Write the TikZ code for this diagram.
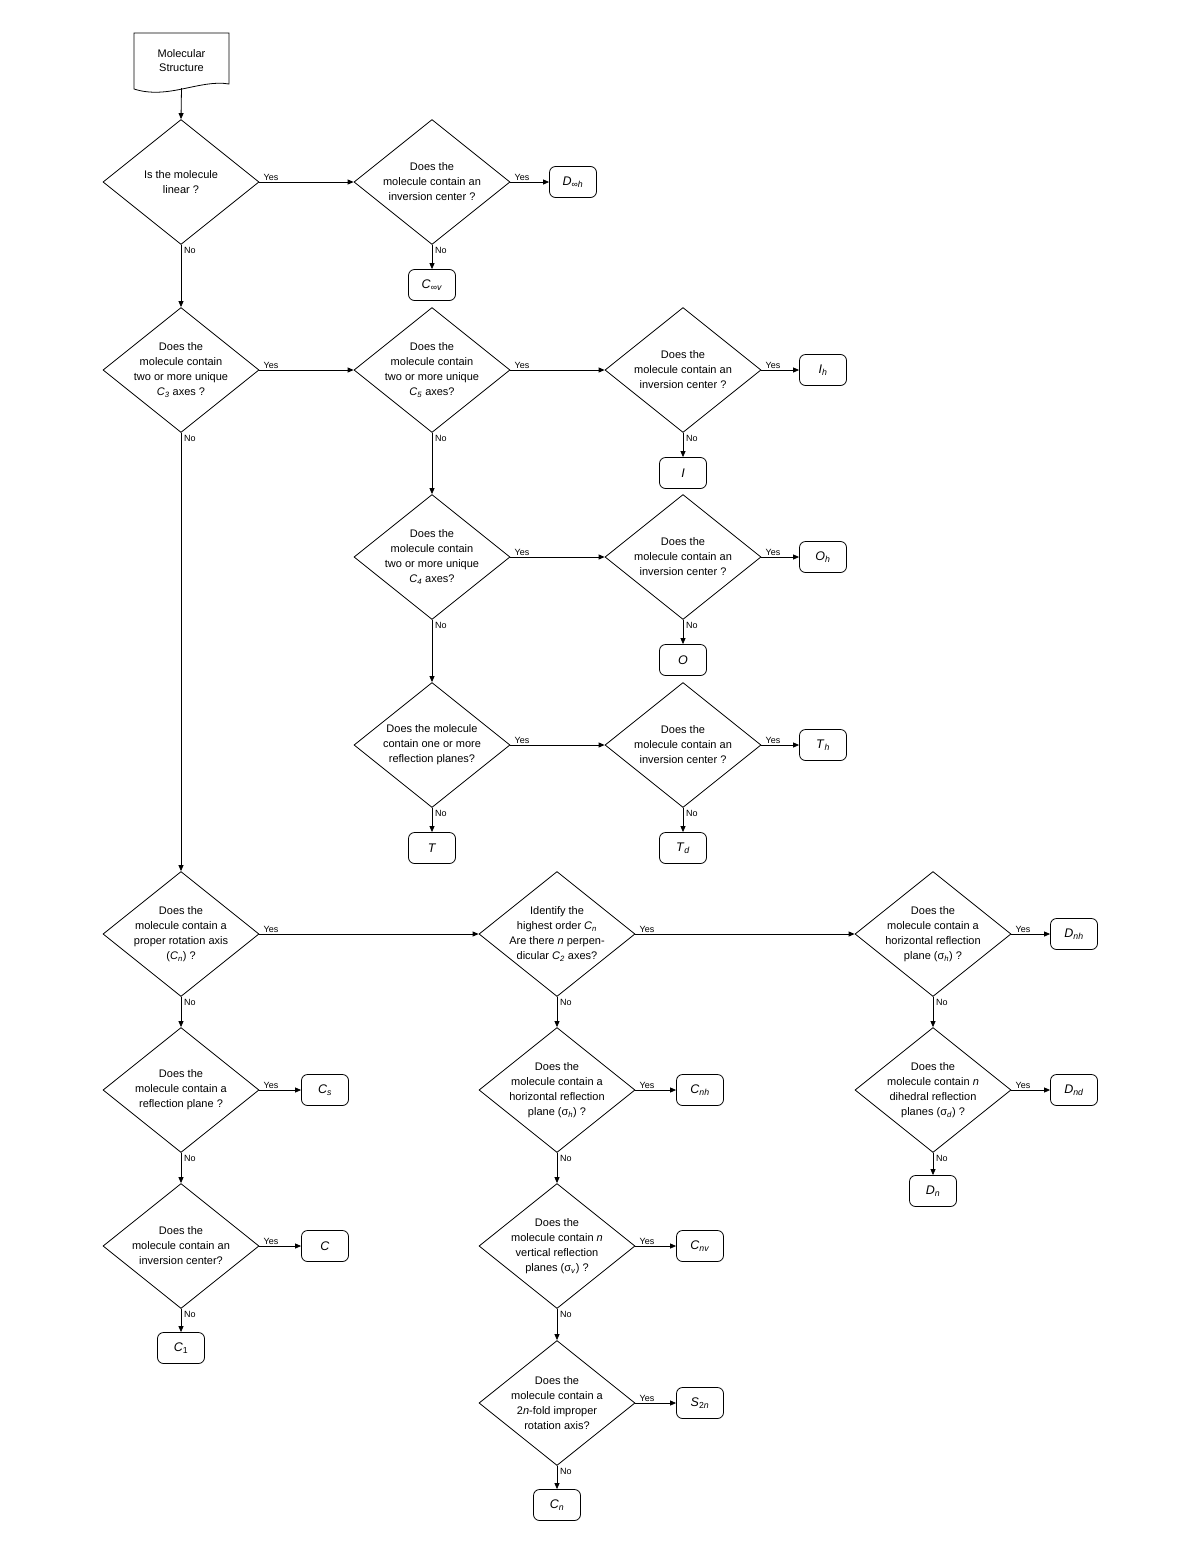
\documentclass[tikz,border=0pt]{standalone}
\usepackage{fontspec}
\setmainfont{Liberation Sans}
\usetikzlibrary{shapes.geometric,arrows.meta,calc}
\newcommand{\gsym}[2]{\textit{#1}\textsubscript{\textit{#2}}}
\begin{document}
\begin{tikzpicture}[x=1pt,y=-1pt,
 dia/.style={draw,shape=diamond,minimum width=156pt,minimum height=125pt,inner sep=0pt,line width=0.8pt},
 dtext/.style={align=center,font=\fontsize{11}{15}\selectfont,inner sep=0pt},
 term/.style={draw,rounded corners=6pt,minimum width=47pt,minimum height=31pt,inner sep=0pt,font=\fontsize{12.5}{14}\selectfont,line width=0.8pt},
 arr/.style={line width=0.8pt,-{Triangle[length=6pt,width=5pt]}},
 yeslab/.style={anchor=south west,xshift=4pt,yshift=1pt,inner sep=0pt,font=\fontsize{9}{10}\selectfont},
 nolab/.style={anchor=north west,xshift=3pt,yshift=-2pt,inner sep=0pt,font=\fontsize{9}{10}\selectfont}]
\useasboundingbox (0,0) rectangle (1200,1553);

% start (document shape)
\node[align=center,minimum width=95pt,minimum height=54pt,inner sep=0pt,font=\fontsize{11}{14}\selectfont] (start) at (181.5,61) {Molecular\\Structure};
\draw[line width=0.8pt] (134,33) -- (229,33) -- (229,84) .. controls (200,79) and (168,100) .. (134,89) -- cycle;

% diamonds
\node[dia] (d1) at (181,182) {};
\node[dtext] (t1) at (d1) {Is the molecule\\linear ?};
\node[dia] (d2) at (432,182) {};
\node[dtext] (t2) at (d2) {Does the\\molecule contain an\\inversion center ?};
\node[dia] (d3) at (181,370) {};
\node[dtext] (t3) at (d3) {Does the\\molecule contain\\two or more unique\\\gsym{C}{3} axes ?};
\node[dia] (d4) at (432,370) {};
\node[dtext] (t4) at (d4) {Does the\\molecule contain\\two or more unique\\\gsym{C}{5} axes?};
\node[dia] (d5) at (683,370) {};
\node[dtext] (t5) at (d5) {Does the\\molecule contain an\\inversion center ?};
\node[dia] (d6) at (432,557) {};
\node[dtext] (t6) at (d6) {Does the\\molecule contain\\two or more unique\\\gsym{C}{4} axes?};
\node[dia] (d7) at (683,557) {};
\node[dtext] (t7) at (d7) {Does the\\molecule contain an\\inversion center ?};
\node[dia] (d8) at (432,745) {};
\node[dtext] (t8) at (d8) {Does the molecule\\contain one or more\\reflection planes?};
\node[dia] (d9) at (683,745) {};
\node[dtext] (t9) at (d9) {Does the\\molecule contain an\\inversion center ?};
\node[dia] (d10) at (181,934) {};
\node[dtext] (t10) at (d10) {Does the\\molecule contain a\\proper rotation axis\\(\gsym{C}{n}) ?};
\node[dia] (d11) at (557,934) {};
\node[dtext] (t11) at (d11) {Identify the\\highest order \gsym{C}{n}\\Are there \textit{n} perpen-\\dicular \gsym{C}{2} axes?};
\node[dia] (d12) at (933,934) {};
\node[dtext] (t12) at (d12) {Does the\\molecule contain a\\horizontal reflection\\plane (σ\textsubscript{\textit{h}}) ?};
\node[dia] (d13) at (181,1090) {};
\node[dtext] (t13) at (d13) {Does the\\molecule contain a\\reflection plane ?};
\node[dia] (d14) at (557,1090) {};
\node[dtext] (t14) at (d14) {Does the\\molecule contain a\\horizontal reflection\\plane (σ\textsubscript{\textit{h}}) ?};
\node[dia] (d15) at (933,1090) {};
\node[dtext] (t15) at (d15) {Does the\\molecule contain \textit{n}\\dihedral reflection\\planes (σ\textsubscript{\textit{d}}) ?};
\node[dia] (d16) at (181,1246) {};
\node[dtext] (t16) at (d16) {Does the\\molecule contain an\\inversion center?};
\node[dia] (d17) at (557,1246) {};
\node[dtext] (t17) at (d17) {Does the\\molecule contain \textit{n}\\vertical reflection\\planes (σ\textsubscript{\textit{v}}) ?};
\node[dia] (d18) at (557,1403) {};
\node[dtext] (t18) at (d18) {Does the\\molecule contain a\\2\textit{n}-fold improper\\rotation axis?};

% terminals
\node[term] (Dinfh) at (573,182) {\textit{D}\textsubscript{∞\textit{h}}};
\node[term] (Cinfv) at (432,285) {\textit{C}\textsubscript{∞\textit{v}}};
\node[term] (Ih) at (823,370) {\gsym{I}{h}};
\node[term] (I) at (683,473) {\textit{I}};
\node[term] (Oh) at (823,557) {\gsym{O}{h}};
\node[term] (O) at (683,660) {\textit{O}};
\node[term] (Th) at (823,745) {\gsym{T}{h}};
\node[term] (T) at (432,848) {\textit{T}};
\node[term] (Td) at (683,848) {\gsym{T}{d}};
\node[term] (Dnh) at (1074,934) {\gsym{D}{nh}};
\node[term] (Cs) at (325,1090) {\gsym{C}{s}};
\node[term] (Cnh) at (700,1090) {\gsym{C}{nh}};
\node[term] (Dnd) at (1074,1090) {\gsym{D}{nd}};
\node[term] (Dn) at (933,1191) {\gsym{D}{n}};
\node[term] (Ci) at (325,1246) {\textit{C}};
\node[term] (Cnv) at (700,1246) {\gsym{C}{nv}};
\node[term] (C1) at (181,1348) {\textit{C}\textsubscript{1}};
\node[term] (S2n) at (700,1403) {\textit{S}\textsubscript{2\textit{n}}};
\node[term] (Cn) at (557,1505) {\gsym{C}{n}};

% connectors
\draw[arr] (start.south) -- (d1.north);
\draw[arr] (d1.east) -- (d2.west);
\draw[arr] (d2.east) -- (Dinfh.west);
\draw[arr] (d2.south) -- (Cinfv.north);
\draw[arr] (d1.south) -- (d3.north);
\draw[arr] (d3.east) -- (d4.west);
\draw[arr] (d4.east) -- (d5.west);
\draw[arr] (d5.east) -- (Ih.west);
\draw[arr] (d5.south) -- (I.north);
\draw[arr] (d4.south) -- (d6.north);
\draw[arr] (d6.east) -- (d7.west);
\draw[arr] (d7.east) -- (Oh.west);
\draw[arr] (d7.south) -- (O.north);
\draw[arr] (d6.south) -- (d8.north);
\draw[arr] (d8.east) -- (d9.west);
\draw[arr] (d9.east) -- (Th.west);
\draw[arr] (d9.south) -- (Td.north);
\draw[arr] (d8.south) -- (T.north);
\draw[arr] (d3.south) -- (d10.north);
\draw[arr] (d10.east) -- (d11.west);
\draw[arr] (d11.east) -- (d12.west);
\draw[arr] (d12.east) -- (Dnh.west);
\draw[arr] (d12.south) -- (d15.north);
\draw[arr] (d15.east) -- (Dnd.west);
\draw[arr] (d15.south) -- (Dn.north);
\draw[arr] (d10.south) -- (d13.north);
\draw[arr] (d13.east) -- (Cs.west);
\draw[arr] (d13.south) -- (d16.north);
\draw[arr] (d16.east) -- (Ci.west);
\draw[arr] (d16.south) -- (C1.north);
\draw[arr] (d11.south) -- (d14.north);
\draw[arr] (d14.east) -- (Cnh.west);
\draw[arr] (d14.south) -- (d17.north);
\draw[arr] (d17.east) -- (Cnv.west);
\draw[arr] (d17.south) -- (d18.north);
\draw[arr] (d18.east) -- (S2n.west);
\draw[arr] (d18.south) -- (Cn.north);

% Yes labels
\node[yeslab] (y1) at (d1.east) {Yes};
\node[yeslab] (y2) at (d2.east) {Yes};
\node[yeslab] (y3) at (d3.east) {Yes};
\node[yeslab] (y4) at (d4.east) {Yes};
\node[yeslab] (y5) at (d5.east) {Yes};
\node[yeslab] (y6) at (d6.east) {Yes};
\node[yeslab] (y7) at (d7.east) {Yes};
\node[yeslab] (y8) at (d8.east) {Yes};
\node[yeslab] (y9) at (d9.east) {Yes};
\node[yeslab] (y10) at (d10.east) {Yes};
\node[yeslab] (y11) at (d11.east) {Yes};
\node[yeslab] (y12) at (d12.east) {Yes};
\node[yeslab] (y13) at (d13.east) {Yes};
\node[yeslab] (y14) at (d14.east) {Yes};
\node[yeslab] (y15) at (d15.east) {Yes};
\node[yeslab] (y16) at (d16.east) {Yes};
\node[yeslab] (y17) at (d17.east) {Yes};
\node[yeslab] (y18) at (d18.east) {Yes};
% No labels
\node[nolab] (n1) at (d1.south) {No};
\node[nolab] (n2) at (d2.south) {No};
\node[nolab] (n3) at (d3.south) {No};
\node[nolab] (n4) at (d4.south) {No};
\node[nolab] (n5) at (d5.south) {No};
\node[nolab] (n6) at (d6.south) {No};
\node[nolab] (n7) at (d7.south) {No};
\node[nolab] (n8) at (d8.south) {No};
\node[nolab] (n9) at (d9.south) {No};
\node[nolab] (n10) at (d10.south) {No};
\node[nolab] (n11) at (d11.south) {No};
\node[nolab] (n12) at (d12.south) {No};
\node[nolab] (n13) at (d13.south) {No};
\node[nolab] (n14) at (d14.south) {No};
\node[nolab] (n15) at (d15.south) {No};
\node[nolab] (n16) at (d16.south) {No};
\node[nolab] (n17) at (d17.south) {No};
\node[nolab] (n18) at (d18.south) {No};
\end{tikzpicture}
\end{document}
